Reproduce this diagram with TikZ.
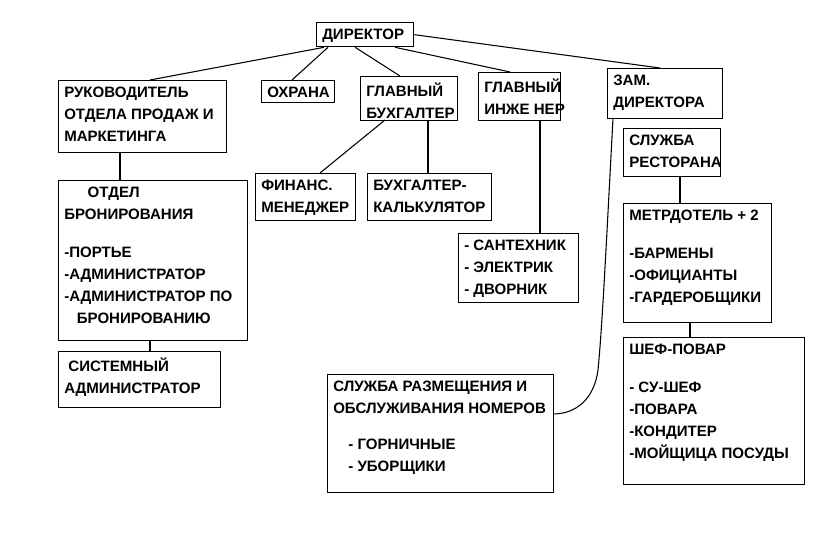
\documentclass[tikz,border=0pt]{standalone}
\usepackage{fontspec}
\setmainfont{Liberation Sans}
\begin{document}
\begin{tikzpicture}[x=0.75pt,y=-0.75pt,
  bx/.style={draw,line width=1pt,anchor=north west,align=left,inner sep=0pt},
  tx/.style={anchor=north west,align=left,inner sep=0pt,font=\fontsize{11.3}{16.5}\selectfont\bfseries},
  ln/.style={line width=0.8pt}]
\useasboundingbox (0,0) rectangle (831,538);
\newcommand{\bx}[6]{\node[bx,minimum width=(#4-#2)*0.75pt,minimum height=(#5-#3)*0.75pt] (#1) at (#2,#3) {};
  \node[tx] at (#2+6,#3+7) {#6};}
\bx{dir}{316}{22}{413}{46}{ДИРЕКТОР}
\bx{ruk}{58}{80}{226}{152}{РУКОВОДИТЕЛЬ\\ ОТДЕЛА ПРОДАЖ И\\ МАРКЕТИНГА}
\bx{okh}{261}{80}{334}{102}{ОХРАНА}
\bx{gb}{360}{76}{457}{120}{ГЛАВНЫЙ\\ БУХГАЛТЕР}
\bx{gi}{478}{72}{560}{120}{ГЛАВНЫЙ\\ ИНЖЕ НЕР}
\bx{zam}{607}{68}{722}{118}{ЗАМ.\\ ДИРЕКТОРА}
\bx{sr}{623}{128}{720}{176}{СЛУЖБА\\ РЕСТОРАНА}
\bx{fin}{255}{173}{355}{220}{ФИНАНС.\\ МЕНЕДЖЕР}
\bx{bk}{367}{173}{491}{220}{БУХГАЛТЕР-\\ КАЛЬКУЛЯТОР}
\bx{ob}{58}{180}{247}{340}{\quad\ \ ОТДЕЛ\\ БРОНИРОВАНИЯ\\[12pt] -ПОРТЬЕ\\ -АДМИНИСТРАТОР\\ -АДМИНИСТРАТОР ПО\\ \ \ \ БРОНИРОВАНИЮ}
\bx{st}{458}{233}{578}{302}{- САНТЕХНИК\\ - ЭЛЕКТРИК\\ - ДВОРНИК}
\bx{md}{623}{203}{771}{322}{МЕТРДОТЕЛЬ + 2\\[12pt] -БАРМЕНЫ\\ -ОФИЦИАНТЫ\\ -ГАРДЕРОБЩИКИ}
\bx{sys}{58}{351}{220}{407}{\ СИСТЕМНЫЙ\\ АДМИНИСТРАТОР}
\bx{shef}{623}{337}{804}{484}{ШЕФ-ПОВАР\\[12pt] - СУ-ШЕФ\\ -ПОВАРА\\ -КОНДИТЕР\\ -МОЙЩИЦА ПОСУДЫ}
\bx{raz}{327}{374}{553}{492}{СЛУЖБА РАЗМЕЩЕНИЯ И\\ ОБСЛУЖИВАНИЯ НОМЕРОВ\\[10pt] \quad - ГОРНИЧНЫЕ\\ \quad - УБОРЩИКИ}
\draw[ln] (dir.south west)++(8,0) -- (150,80);
\draw[ln] (dir.south west)++(12,0) -- (292,80);
\draw[ln] (dir.south)++(-10,0) -- (400,76);
\draw[ln] (dir.south)++(30,0) -- (510,72);
\draw[ln] (dir.east) -- (660,68);
\draw[ln] (120,152) -- (120,180);
\draw[ln] (150,340) -- (150,351);
\draw[ln] (385,120) -- (320,173);
\draw[ln] (428,120) -- (428,173);
\draw[ln] (540,120) -- (540,233);
\draw[ln] (613,118) .. controls (606,250) and (602,330) .. (598,370) .. controls (594,400) and (575,414) .. (553,414);
\draw[ln] (680,176) -- (680,203);
\draw[ln] (690,322) -- (690,337);
\end{tikzpicture}
\end{document}
